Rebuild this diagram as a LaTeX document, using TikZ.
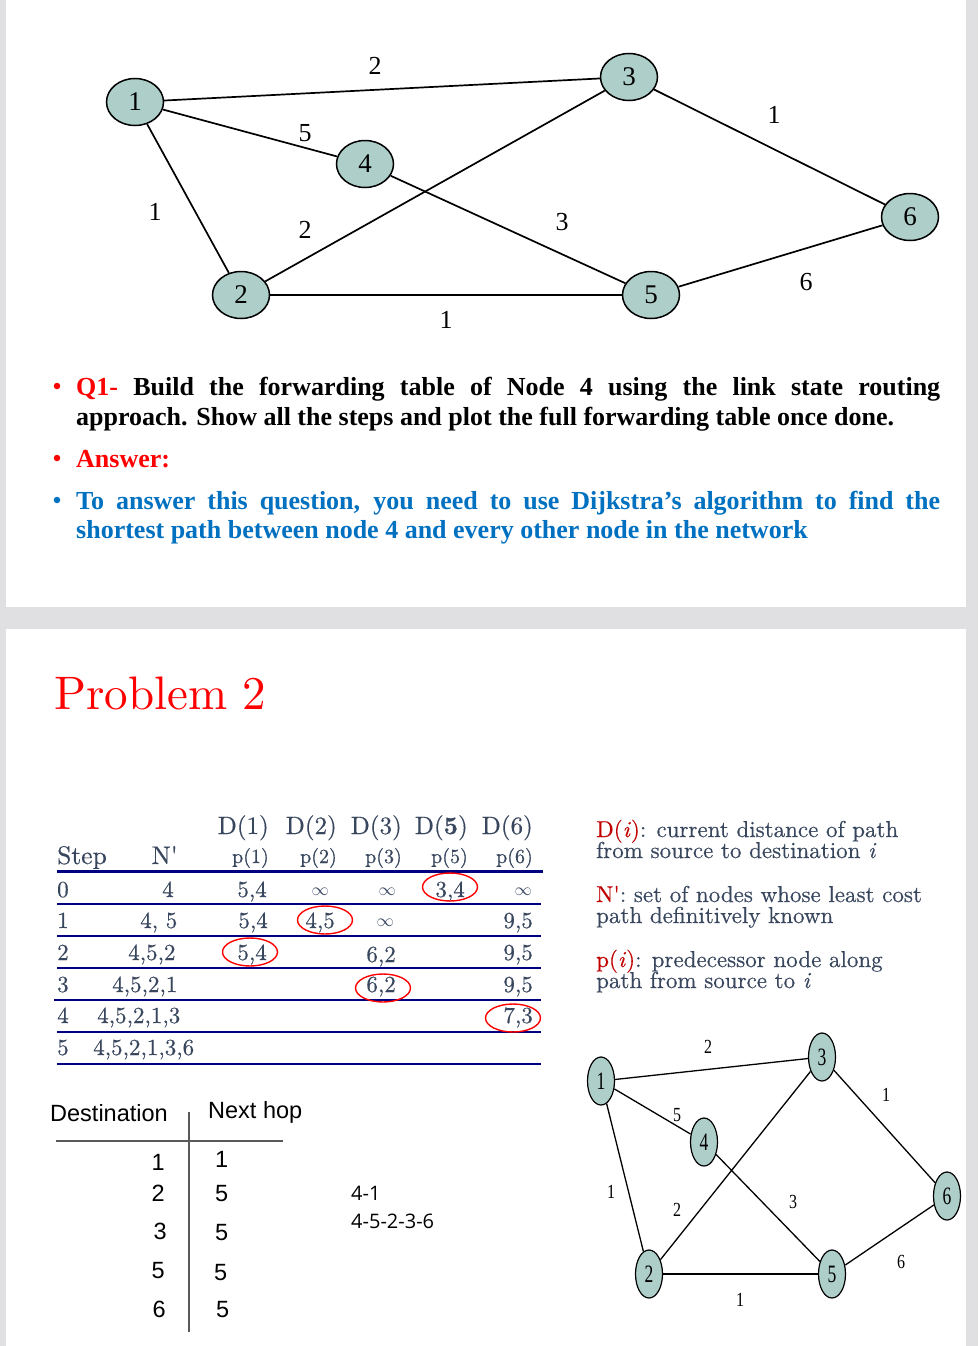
\documentclass[tikz,border=0pt]{standalone}
\usepackage{fontspec}
\usepackage{graphicx}
\usetikzlibrary{shapes.geometric}
\newfontfamily\tnr{Liberation Serif}
\newfontfamily\arialf{Liberation Sans}
\newfontfamily\osans{Open Sans}
\newfontfamily\tabf{lmroman10-regular.otf}[ItalicFont=lmroman10-italic.otf, BoldFont=lmroman10-bold.otf, FakeBold=0.4]
\newfontfamily\titf{lmroman10-regular.otf}
\definecolor{nodefill}{RGB}{174,207,201}
\definecolor{slidegray}{RGB}{224,224,226}
\definecolor{qblue}{RGB}{0,112,192}
\definecolor{tabtext}{RGB}{56,70,94}
\definecolor{navyline}{RGB}{0,0,128}
\definecolor{dred}{RGB}{192,0,0}
\newcommand{\fs}[1]{\fontsize{#1}{#1}\selectfont}
\tikzset{
  gnode/.style={ellipse, draw, line width=1.5pt, fill=nodefill, minimum width=57pt, minimum height=47pt, inner sep=0pt, font=\tnr\fs{27}},
  sgnode/.style={ellipse, draw, line width=1.2pt, fill=nodefill, minimum width=27pt, minimum height=48pt, inner sep=0pt, font=\tnr\fs{25}},
  gedge/.style={line width=1.7pt},
  sgedge/.style={line width=1.3pt},
  elab/.style={inner sep=0pt, font=\tnr\fs{26}},
  selab/.style={inner sep=0pt, font=\tnr\fs{20}},
  txt/.style={anchor=base west, inner sep=0pt},
  txte/.style={anchor=base east, inner sep=0pt},
  qline/.style={txt, font=\tnr\bfseries\fontsize{26}{30}\selectfont},
  bul/.style={circle, inner sep=0pt, minimum size=6.5pt},
  hd/.style={txte, font=\tabf\fs{25}, text=tabtext},
  ph/.style={txte, font=\tabf\fs{20}, text=tabtext},
  val/.style={txte, font=\tabf\fs{23}, text=tabtext},
  valw/.style={txt, font=\tabf\fs{23}, text=tabtext},
  inf/.style={txte, font=\fs{16}, text=tabtext},
  navythick/.style={draw=navyline, line width=3pt},
  navythin/.style={draw=navyline, line width=1.2pt},
  circ/.style={ellipse, draw=red, line width=1.4pt, minimum width=55pt, minimum height=28pt, inner sep=0pt},
  leg/.style={txt, font=\tabf\fs{23}, text=tabtext},
  fwd/.style={font=\arialf\fs{23.5}, inner sep=0pt},
  fline/.style={draw=black!65, line width=1.2pt},
}
\begin{document}
\begin{tikzpicture}[x=1pt, y=-1pt]
\useasboundingbox (0,0) rectangle (978,1346);
% background and slides
\fill[slidegray] (0,0) rectangle (978,1346);
\fill[white] (6,0) rectangle (966,607);
\fill[white] (6,629) rectangle (966,1346);

% ---------- top graph ----------
\node[gnode] (n1) at (135,102) {1};
\node[gnode] (n3) at (629,77) {3};
\node[gnode] (n4) at (365,164) {4};
\node[gnode] (n6) at (910,217) {6};
\node[gnode] (n2) at (241,295) {2};
\node[gnode] (n5) at (651,295) {5};
\draw[gedge] (n1) -- (n3);
\draw[gedge] (n1) -- (n4);
\draw[gedge] (n1) -- (n2);
\draw[gedge] (n3) -- (n6);
\draw[gedge] (n3) -- (n2);
\draw[gedge] (n4) -- (n5);
\draw[gedge] (n2) -- (n5);
\draw[gedge] (n5) -- (n6);
\node[elab] (l13) at (375,66) {2};
\node[elab] (l14) at (305,133) {5};
\node[elab] (l36) at (774,115) {1};
\node[elab] (l12) at (155,212) {1};
\node[elab] (l23) at (305,230) {2};
\node[elab] (l45) at (562,222) {3};
\node[elab] (l56) at (806,282) {6};
\node[elab] (l25) at (446,320) {1};

% ---------- top text ----------
\node[bul, fill=red] (b1) at (57,386) {};
\node[qline] (q1a) at (76,395) {\makebox[864pt][s]{\textcolor{red}{Q1-} Build the forwarding table of Node 4 using the link state routing}};
\node[qline] (q1b) at (76,425) {approach. Show all the steps and plot the full forwarding table once done.};
\node[bul, fill=red] (b2) at (57,458) {};
\node[qline, text=red] (ans) at (76,467) {Answer:};
\node[bul, fill=qblue] (b3) at (57,500) {};
\node[qline, text=qblue] (bl1) at (76,509) {\makebox[864pt][s]{To answer this question, you need to use Dijkstra’s algorithm to find the}};
\node[qline, text=qblue] (bl2) at (76,538) {shortest path between node 4 and every other node in the network};

% ---------- Problem 2 ----------
\node[txt, font=\titf\fs{47}, text=red] (title) at (54,709) {Problem 2};

% ---------- Dijkstra table ----------
\node[hd] (d1) at (269,834) {D(1)};
\node[hd] (d2) at (337,834) {D(2)};
\node[hd] (d3) at (402,834) {D(3)};
\node[hd] (d5) at (468,834) {D(\textbf{5})};
\node[hd] (d6) at (533,834) {D(6)};
\node[txt, font=\tabf\fs{25.5}, text=tabtext] (step) at (57,864) {Step};
\node[txte, font=\tabf\fs{25.5}, text=tabtext] (np) at (178,864) {N\textquotesingle};
\node[ph] (p1) at (269,863) {p(1)};
\node[ph] (p2) at (337,863) {p(2)};
\node[ph] (p3) at (402,863) {p(3)};
\node[ph] (p5) at (468,863) {p(5)};
\node[ph] (p6) at (533,863) {p(6)};
\draw[navythick] (57,871) -- (543,871);
\draw[navythin] (57,904) -- (541,904);
\draw[navythin] (57,936) -- (541,936);
\draw[navythin] (57,968) -- (541,968);
\draw[navythin] (54,1000) -- (541,1000);
\draw[navythin] (57,1032) -- (541,1032);
\draw[navythin] (57,1064) -- (541,1064);
% step numbers
\node[valw] (s0) at (57,897) {0};
\node[valw] (s1) at (57,928) {1};
\node[valw] (s2) at (57,960) {2};
\node[valw] (s3) at (57,992) {3};
\node[valw] (s4) at (57,1023) {4};
\node[valw] (s5) at (57,1055) {5};
% N'
\node[valw] (c0) at (162,897) {4};
\node[valw] (c1) at (140,928) {4, 5};
\node[valw] (c2) at (128,960) {4,5,2};
\node[valw] (c3) at (112,992) {4,5,2,1};
\node[valw] (c4) at (97,1023) {4,5,2,1,3};
\node[valw] (c5) at (93,1055) {4,5,2,1,3,6};
% row 0
\node[val] (r0a) at (267,897) {5,4};
\node[inf] (r0b) at (329,895) {$\infty$};
\node[inf] (r0c) at (396,895) {$\infty$};
\node[val] (r0d) at (465,897) {3,4};
\node[inf] (r0e) at (532,895) {$\infty$};
% row 1
\node[val] (r1a) at (268,928) {5,4};
\node[val] (r1b) at (335,928) {4,5};
\node[inf] (r1c) at (394,926) {$\infty$};
\node[val] (r1e) at (533,928) {9,5};
% row 2
\node[val] (r2a) at (267,960) {5,4};
\node[val] (r2c) at (396,962) {6,2};
\node[val] (r2e) at (533,960) {9,5};
% row 3
\node[val] (r3c) at (396,992) {6,2};
\node[val] (r3e) at (533,992) {9,5};
% row 4
\node[val] (r4e) at (533,1023) {7,3};
% circles
\node[circ] (k0) at (450,887) {};
\node[circ] (k1) at (325,920) {};
\node[circ] (k2) at (250,952) {};
\node[circ] (k3) at (383,988) {};
\node[circ] (k4) at (513,1018) {};

% ---------- legend ----------
\node[leg] (lg1) at (596,837) {\textcolor{dred}{D(\textit{i})}: current distance of path};
\node[leg] (lg2) at (596,858) {from source to destination \textit{i}};
\node[leg] (lg3) at (596,902) {\textcolor{dred}{N\textquotesingle}: set of nodes whose least cost};
\node[leg] (lg4) at (596,923) {path definitively known};
\node[leg] (lg5) at (596,967) {\textcolor{dred}{p(\textit{i})}: predecessor node along};
\node[leg] (lg6) at (596,988) {path from source to \textit{i}};

% ---------- forwarding table ----------
\node[fwd, anchor=base west] (fdest) at (50,1121) {Destination};
\node[fwd, anchor=base west] (fnext) at (208,1118) {Next hop};
\coordinate (vt) at (189,1112);
\coordinate (vb) at (189,1332);
\coordinate (hl) at (56,1141);
\coordinate (hr) at (283,1141);
\draw[fline] (vt) -- (vb);
\draw[fline] (hl) -- (hr);
\node[fwd, anchor=base east] (fd1) at (165,1170) {1};
\node[fwd, anchor=base east] (fd2) at (165,1201) {2};
\node[fwd, anchor=base east] (fd3) at (167,1239) {3};
\node[fwd, anchor=base east] (fd5) at (165,1278) {5};
\node[fwd, anchor=base east] (fd6) at (166,1317) {6};
\node[fwd, anchor=base west] (fh1) at (215,1167) {1};
\node[fwd, anchor=base west] (fh2) at (215,1201) {5};
\node[fwd, anchor=base west] (fh3) at (215,1240) {5};
\node[fwd, anchor=base west] (fh5) at (214,1280) {5};
\node[fwd, anchor=base west] (fh6) at (216,1317) {5};
\node[txt, font=\osans\fs{20}] (path1) at (351,1200) {4-1};
\node[txt, font=\osans\fs{20}] (path2) at (351,1228) {4-5-2-3-6};

% ---------- bottom graph ----------
\node[sgnode] (m1) at (601,1081) {\scalebox{0.7}[1]{1}};
\node[sgnode] (m3) at (822,1057) {\scalebox{0.7}[1]{3}};
\node[sgnode] (m4) at (704,1142) {\scalebox{0.7}[1]{4}};
\node[sgnode] (m6) at (947,1196) {\scalebox{0.7}[1]{6}};
\node[sgnode] (m2) at (649,1274) {\scalebox{0.7}[1]{2}};
\node[sgnode] (m5) at (832,1274) {\scalebox{0.7}[1]{5}};
\draw[sgedge] (m1) -- (m3);
\draw[sgedge] (m1) -- (m4);
\draw[sgedge] (m1) -- (m2);
\draw[sgedge] (m3) -- (m6);
\draw[sgedge] (m3) -- (m2);
\draw[sgedge] (m4) -- (m5);
\draw[sgedge] (m2) -- (m5);
\draw[sgedge] (m5) -- (m6);
\node[selab] (k13) at (708,1047) {\scalebox{0.8}[1]{2}};
\node[selab] (k14) at (677,1115) {\scalebox{0.8}[1]{5}};
\node[selab] (k36) at (886,1095) {\scalebox{0.8}[1]{1}};
\node[selab] (k12) at (611,1192) {\scalebox{0.8}[1]{1}};
\node[selab] (k23) at (677,1210) {\scalebox{0.8}[1]{2}};
\node[selab] (k45) at (793,1202) {\scalebox{0.8}[1]{3}};
\node[selab] (k56) at (901,1262) {\scalebox{0.8}[1]{6}};
\node[selab] (k25) at (740,1300) {\scalebox{0.8}[1]{1}};
\end{tikzpicture}
\end{document}
